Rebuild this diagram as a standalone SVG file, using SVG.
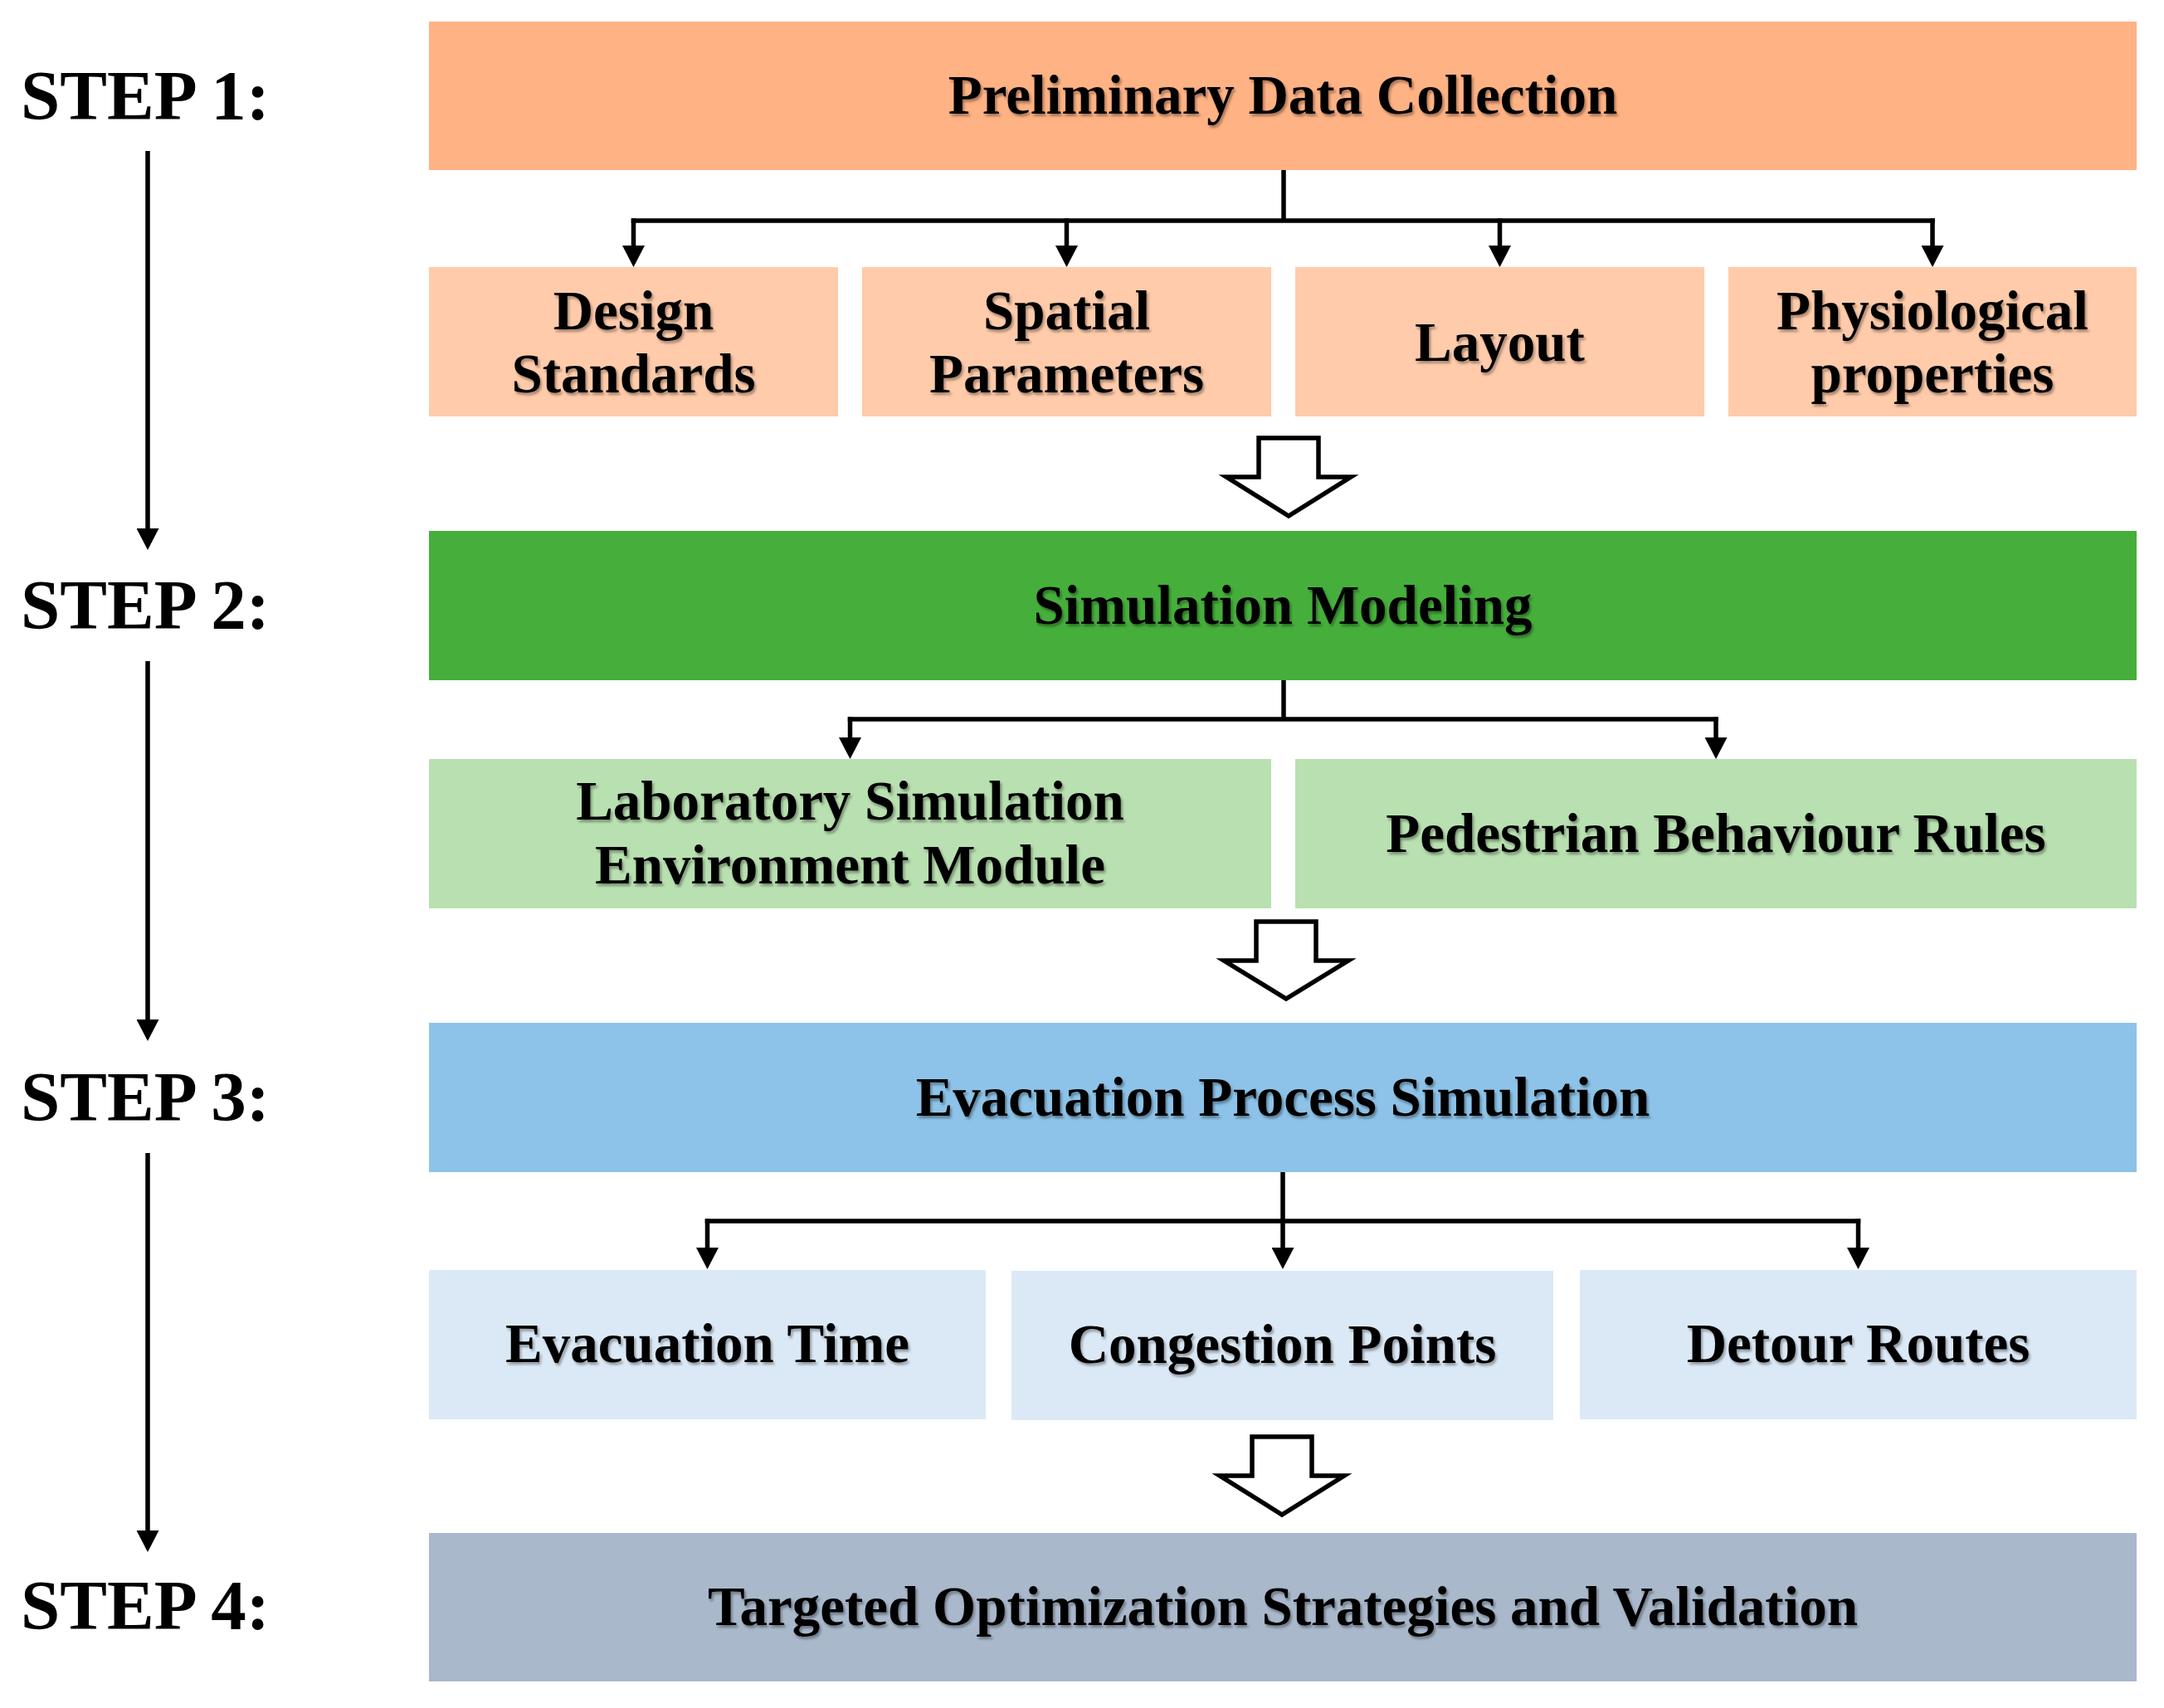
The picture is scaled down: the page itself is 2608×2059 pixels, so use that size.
<svg xmlns="http://www.w3.org/2000/svg" width="2608" height="2059" viewBox="0 0 2608 2059">
<defs>
<style>
.lbl{font-family:"Liberation Serif","Times New Roman",serif;font-weight:bold;font-size:67px;fill:#000;text-anchor:middle;filter:url(#sh)}
.step{font-family:"Liberation Serif","Times New Roman",serif;font-weight:bold;font-size:85px;fill:#000}
.con{fill:none;stroke:#000;stroke-width:5.5}
.hollow{fill:#fff;stroke:#000;stroke-width:5.5;stroke-linejoin:miter}
</style>
<filter id="sh" x="-5%" y="-20%" width="110%" height="150%">
<feDropShadow dx="2" dy="3" stdDeviation="1.8" flood-color="#000" flood-opacity="0.35"/>
</filter>
<marker id="ah" viewBox="0 0 26 27" refX="16" refY="13.5" markerWidth="26" markerHeight="27" markerUnits="userSpaceOnUse" orient="auto">
<path d="M0,0 L26,13.5 L0,27 Z" fill="#000"/>
</marker>
</defs>
<rect width="2608" height="2059" fill="#fff"/>

<!-- Step labels -->
<g id="steps">
<text class="step" x="25" y="144">STEP 1:</text>
<text class="step" x="25" y="758">STEP 2:</text>
<text class="step" x="25" y="1351">STEP 3:</text>
<text class="step" x="25" y="1964">STEP 4:</text>
</g>

<!-- Nodes -->
<g id="n-preliminary"><rect x="517" y="26" width="2058" height="179" fill="#FFB284"/><text class="lbl" x="1546" y="137">Preliminary Data Collection</text></g>
<g id="n-design"><rect x="517" y="322" width="493" height="180" fill="#FFCBAA"/><text class="lbl" x="763.5" y="397">Design</text><text class="lbl" x="763.5" y="473">Standards</text></g>
<g id="n-spatial"><rect x="1039" y="322" width="493" height="180" fill="#FFCBAA"/><text class="lbl" x="1285.5" y="397">Spatial</text><text class="lbl" x="1285.5" y="473">Parameters</text></g>
<g id="n-layout"><rect x="1561" y="322" width="493" height="180" fill="#FFCBAA"/><text class="lbl" x="1807.5" y="435">Layout</text></g>
<g id="n-physio"><rect x="2083" y="322" width="492" height="180" fill="#FFCBAA"/><text class="lbl" x="2329" y="397">Physiological</text><text class="lbl" x="2329" y="473">properties</text></g>

<g id="n-simmodel"><rect x="517" y="640" width="2058" height="180" fill="#46AF3B"/><text class="lbl" x="1546" y="752">Simulation Modeling</text></g>
<g id="n-lab"><rect x="517" y="915" width="1015" height="180" fill="#B9E0B1"/><text class="lbl" x="1024.5" y="988">Laboratory Simulation</text><text class="lbl" x="1024.5" y="1065">Environment Module</text></g>
<g id="n-ped"><rect x="1561" y="915" width="1014" height="180" fill="#B9E0B1"/><text class="lbl" x="2068" y="1027">Pedestrian Behaviour Rules</text></g>

<g id="n-evac"><rect x="517" y="1233" width="2058" height="180" fill="#8DC3E8"/><text class="lbl" x="1546" y="1345">Evacuation Process Simulation</text></g>
<g id="n-evactime"><rect x="517" y="1531" width="671" height="180" fill="#DBE9F6"/><text class="lbl" x="852.5" y="1642">Evacuation Time</text></g>
<g id="n-congestion"><rect x="1219" y="1532" width="653" height="180" fill="#DBE9F6"/><text class="lbl" x="1545.5" y="1643">Congestion Points</text></g>
<g id="n-detour"><rect x="1904" y="1531" width="671" height="180" fill="#DBE9F6"/><text class="lbl" x="2239.5" y="1642">Detour Routes</text></g>

<g id="n-targeted"><rect x="517" y="1848" width="2058" height="179" fill="#A9B8CB"/><text class="lbl" x="1546" y="1959">Targeted Optimization Strategies and Validation</text></g>

<!-- Connectors -->
<g id="connectors">
<line class="con" x1="178" y1="182" x2="178" y2="653" marker-end="url(#ah)"/>
<line class="con" x1="178" y1="797" x2="178" y2="1245" marker-end="url(#ah)"/>
<line class="con" x1="178" y1="1390" x2="178" y2="1861" marker-end="url(#ah)"/>

<line class="con" x1="1547" y1="205" x2="1547" y2="266"/>
<line class="con" x1="760.75" y1="266" x2="2331.75" y2="266"/>
<line class="con" x1="763.5" y1="263.25" x2="763.5" y2="312" marker-end="url(#ah)"/>
<line class="con" x1="1285.5" y1="263.25" x2="1285.5" y2="312" marker-end="url(#ah)"/>
<line class="con" x1="1807.5" y1="263.25" x2="1807.5" y2="312" marker-end="url(#ah)"/>
<line class="con" x1="2329" y1="263.25" x2="2329" y2="312" marker-end="url(#ah)"/>

<line class="con" x1="1547" y1="820" x2="1547" y2="867"/>
<line class="con" x1="1021.75" y1="867" x2="2070.75" y2="867"/>
<line class="con" x1="1024.5" y1="864.25" x2="1024.5" y2="905" marker-end="url(#ah)"/>
<line class="con" x1="2068" y1="864.25" x2="2068" y2="905" marker-end="url(#ah)"/>

<line class="con" x1="1546" y1="1413" x2="1546" y2="1520" marker-end="url(#ah)"/>
<line class="con" x1="849.75" y1="1472" x2="2242.25" y2="1472"/>
<line class="con" x1="852.5" y1="1469.25" x2="852.5" y2="1520" marker-end="url(#ah)"/>
<line class="con" x1="2239.5" y1="1469.25" x2="2239.5" y2="1520" marker-end="url(#ah)"/>

<path class="hollow" d="M1517,528 H1589 V575 H1628 L1553,622 L1478,575 H1517 Z"/>
<path class="hollow" d="M1514,1111 H1586 V1158 H1625 L1550,1204 L1475,1158 H1514 Z"/>
<path class="hollow" d="M1509,1732 H1581 V1779 H1620 L1545,1826 L1470,1779 H1509 Z"/>
</g>
</svg>
